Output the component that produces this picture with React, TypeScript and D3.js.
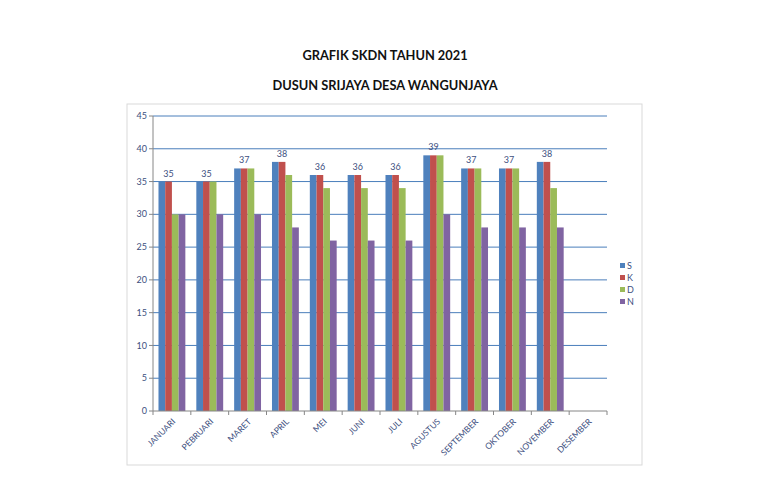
import * as d3 from 'd3';

const months = ['JANUARI', 'PEBRUARI', 'MARET', 'APRIL', 'MEI', 'JUNI', 'JULI', 'AGUSTUS', 'SEPTEMBER', 'OKTOBER', 'NOVEMBER', 'DESEMBER'];
const seriesNames = ['S', 'K', 'D', 'N'];
const sValues = [35, 35, 37, 38, 36, 36, 36, 39, 37, 37, 38, null];
const kValues = [35, 35, 37, 38, 36, 36, 36, 39, 37, 37, 38, null];
const dValues = [30, 35, 37, 36, 34, 34, 34, 39, 37, 37, 34, null];
const nValues = [30, 30, 30, 28, 26, 26, 26, 30, 28, 28, 28, null];
const yTicks = [0, 5, 10, 15, 20, 25, 30, 35, 40, 45];
const colors = ['#4F81BD', '#C0504D', '#9BBB59', '#8064A2'];

const W = 768;
const H = 503;
const plot = { left: 153, right: 607, top: 116, bottom: 411 };
const textColor = '#3d4f80';

export default function App() {
  const series = [sValues, kValues, dValues, nValues];

  const x = d3.scaleBand<string>().domain(months).range([plot.left, plot.right]).paddingInner(0.29).paddingOuter(0.145);
  const xs = d3.scaleBand<string>().domain(seriesNames).range([0, x.bandwidth()]);
  const y = d3.scaleLinear().domain([0, 45]).range([plot.bottom, plot.top]);
  const step = (plot.right - plot.left) / months.length;

  return (
    <svg width={W} height={H} style={{ position: 'absolute', left: 0, top: 0, background: '#fff' }} fontFamily="Lato, 'Open Sans', sans-serif">
      {/* title */}
      <text x={385} y={60} textAnchor="middle" fontSize={12.8} fontWeight="bold" fill="#111">GRAFIK SKDN TAHUN 2021</text>
      <text x={385} y={90} textAnchor="middle" fontSize={12.8} fontWeight="bold" fill="#111">DUSUN SRIJAYA DESA WANGUNJAYA</text>

      {/* chart frame */}
      <rect x={127} y={104} width={515} height={361} fill="none" stroke="#d9d9d9" strokeWidth={1} />

      {/* gridlines */}
      {yTicks.filter((t) => t > 0).map((t) => (
        <line key={t} x1={plot.left} x2={plot.right} y1={y(t)} y2={y(t)} stroke="#4a7ebb" strokeWidth={1} />
      ))}

      {/* bars */}
      {months.map((m, i) => (
        <g key={m} transform={`translate(${x(m)},0)`}>
          {series.map((vals, si) => {
            const v = vals[i];
            if (v == null) return null;
            return <rect key={si} x={xs(seriesNames[si])} y={y(v)} width={xs.bandwidth()} height={y(0) - y(v)} fill={colors[si]} />;
          })}
        </g>
      ))}

      {/* data labels (K series) */}
      {months.map((m, i) => {
        const v = kValues[i];
        if (v == null) return null;
        return (
          <text key={m} x={(x(m) ?? 0) + (xs('K') ?? 0) + xs.bandwidth() / 2} y={y(v) - 5} textAnchor="middle" fontSize={9} fill={textColor}>
            {v}
          </text>
        );
      })}

      {/* y axis */}
      <line x1={plot.left} x2={plot.left} y1={plot.top} y2={plot.bottom} stroke="#868686" />
      {yTicks.map((t) => (
        <g key={t}>
          <line x1={plot.left - 4} x2={plot.left} y1={y(t)} y2={y(t)} stroke="#868686" />
          <text x={plot.left - 6} y={y(t)} dy="0.35em" textAnchor="end" fontSize={9} fill={textColor}>{t}</text>
        </g>
      ))}

      {/* x axis */}
      <line x1={plot.left} x2={plot.right} y1={plot.bottom} y2={plot.bottom} stroke="#868686" />
      {d3.range(months.length + 1).map((i) => (
        <line key={i} x1={plot.left + i * step} x2={plot.left + i * step} y1={plot.bottom} y2={plot.bottom + 4} stroke="#868686" />
      ))}
      {months.map((m) => {
        const cx = (x(m) ?? 0) + x.bandwidth() / 2;
        return (
          <text key={m} transform={`translate(${cx + 2},${plot.bottom + 9}) rotate(-45)`} textAnchor="end" dy="0.35em" fontSize={8.5} fill={textColor}>
            {m}
          </text>
        );
      })}

      {/* legend */}
      {seriesNames.map((s, i) => (
        <g key={s} transform={`translate(620,${266 + i * 12})`}>
          <rect x={0} y={-3} width={5} height={5} fill={colors[i]} />
          <text x={7} y={0} dy="0.35em" fontSize={9} fill={textColor}>{s}</text>
        </g>
      ))}
    </svg>
  );
}
